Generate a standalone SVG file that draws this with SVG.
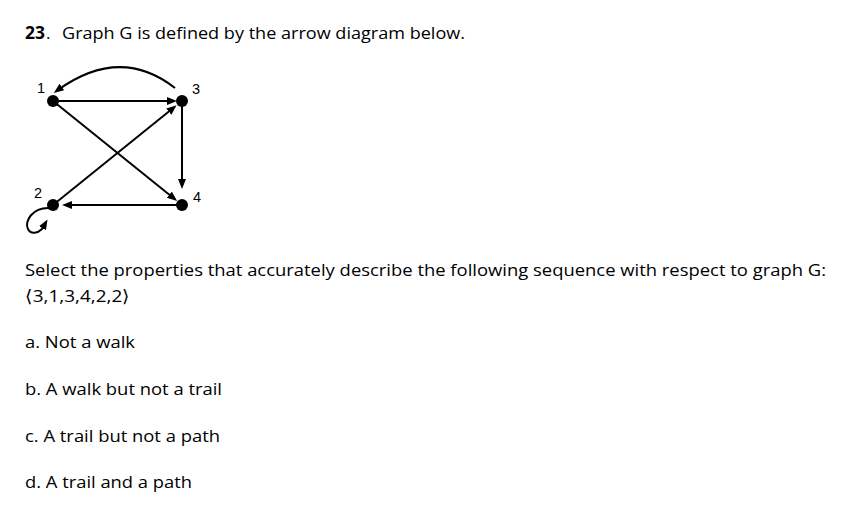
<svg xmlns="http://www.w3.org/2000/svg" width="858" height="526" viewBox="0 0 858 526">
<style>
.t{font-family:"Open Sans","Liberation Sans",sans-serif;font-size:17px;fill:#000}
.b{font-weight:bold}
.lbl{font-family:"Liberation Sans",Arial,sans-serif;font-size:14.5px;fill:#000}
.e{fill:none;stroke:#000;stroke-width:2}
.n{fill:#000}
</style>
<defs>
<marker id="ah" markerUnits="userSpaceOnUse" markerWidth="11" markerHeight="9" refX="6" refY="4" orient="auto" viewBox="0 0 11 9">
<path d="M0,0 L10,4 L0,8 z" fill="#000"/>
</marker>
</defs>
<rect width="858" height="526" fill="#fff"/>
<text class="t b" x="25" y="39" textLength="20" lengthAdjust="spacingAndGlyphs">23</text>
<text class="t" x="46" y="39">.</text>
<text class="t" x="62" y="39" textLength="403" lengthAdjust="spacingAndGlyphs">Graph G is defined by the arrow diagram below.</text>
<g id="connectors">
<line class="e" x1="53" y1="101" x2="173" y2="101" marker-end="url(#ah)"/>
<line class="e" x1="53" y1="205" x2="173.5" y2="107.8" marker-end="url(#ah)"/>
<line class="e" x1="53" y1="101" x2="174" y2="198.5" marker-end="url(#ah)"/>
<line class="e" x1="182" y1="101" x2="182" y2="185" marker-end="url(#ah)"/>
<line class="e" x1="182" y1="205" x2="66" y2="205" marker-end="url(#ah)"/>
<path class="e" d="M175 88 Q120 45 57 90.6" marker-end="url(#ah)"/>
<path class="e" d="M50 208 C32 207 24 222 28 229 C31 235 38 233 42 229 L45.5 223" marker-end="url(#ah)"/>
</g>
<g id="node1"><circle class="n" cx="53" cy="101" r="6"/><text class="lbl" x="37" y="93">1</text></g>
<g id="node3"><circle class="n" cx="182" cy="101" r="6"/><text class="lbl" x="192" y="94">3</text></g>
<g id="node2"><circle class="n" cx="53" cy="205" r="6"/><text class="lbl" x="34" y="198">2</text></g>
<g id="node4"><circle class="n" cx="182" cy="205" r="6"/><text class="lbl" x="193" y="202">4</text></g>
<text class="t" x="25" y="276" textLength="801" lengthAdjust="spacingAndGlyphs">Select the properties that accurately describe the following sequence with respect to graph G:</text>
<text class="t" x="25" y="302" textLength="105" lengthAdjust="spacingAndGlyphs">⟨3,1,3,4,2,2⟩</text>
<text class="t" x="25" y="348" textLength="110" lengthAdjust="spacingAndGlyphs">a. Not a walk</text>
<text class="t" x="25" y="395" textLength="197" lengthAdjust="spacingAndGlyphs">b. A walk but not a trail</text>
<text class="t" x="25" y="442" textLength="195" lengthAdjust="spacingAndGlyphs">c. A trail but not a path</text>
<text class="t" x="25" y="488" textLength="167" lengthAdjust="spacingAndGlyphs">d. A trail and a path</text>
</svg>
